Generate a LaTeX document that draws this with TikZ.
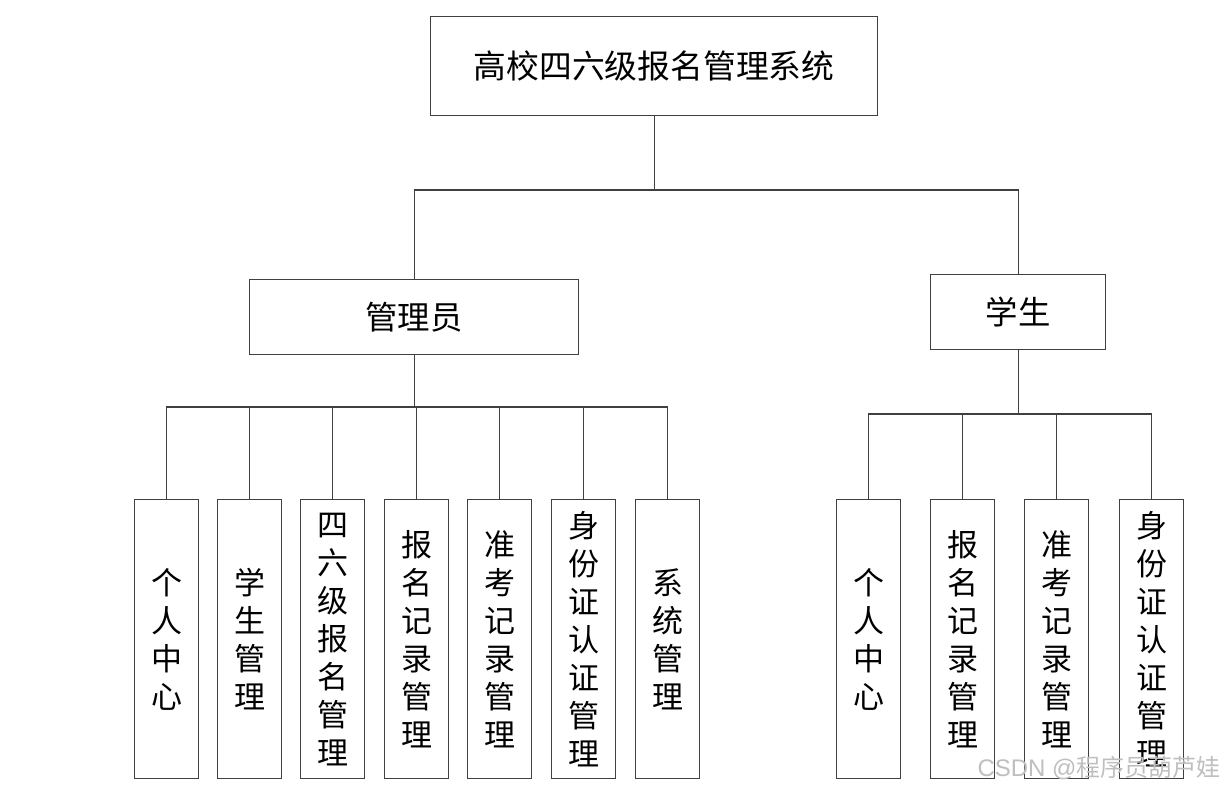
\documentclass[tikz,border=0pt]{standalone}
\usepackage{fontspec}
\newfontfamily\cjk{Noto Sans CJK SC}
\newfontfamily\wmsans{Liberation Sans}
\begin{document}
\begin{tikzpicture}[x=0.5pt,y=-0.5pt,
  box/.style={draw=black!75, line width=0.6pt, fill=white, inner sep=0pt, anchor=north west, align=center},
  leaf/.style={box, minimum width=32pt, minimum height=139.5pt, font=\cjk\fontsize{15.5}{19}\selectfont},
  conn/.style={draw=black!75, line width=0.6pt},
  wm/.style={text=black!25, font=\wmsans\fontsize{12}{14}\selectfont, anchor=east, inner sep=0pt}]
\fill[white] (0,0) rectangle (1224,788);
\useasboundingbox (0,0) rectangle (1224,788);
\coordinate (b1) at (0,190);
\coordinate (b2) at (0,407);
\coordinate (b3) at (0,414);
% boxes
\node[box, minimum width=223.5pt, minimum height=49.5pt, font=\cjk\fontsize{16.4}{20}\selectfont] (top) at (430,16) {高校四六级报名管理系统};
\node[box, minimum width=164.5pt, minimum height=37.5pt, font=\cjk\fontsize{16.2}{18}\selectfont] (admin) at (249,279) {管理员};
\node[box, minimum width=87.5pt, minimum height=37.5pt, font=\cjk\fontsize{16.2}{18}\selectfont] (stu) at (930,274) {学生};
% admin leaves
\node[leaf] (a1) at (134,499) {个\\人\\中\\心};
\node[leaf] (a2) at (217,499) {学\\生\\管\\理};
\node[leaf] (a3) at (300,499) {四\\六\\级\\报\\名\\管\\理};
\node[leaf] (a4) at (384,499) {报\\名\\记\\录\\管\\理};
\node[leaf] (a5) at (467,499) {准\\考\\记\\录\\管\\理};
\node[leaf] (a6) at (551,499) {身\\份\\证\\认\\证\\管\\理};
\node[leaf] (a7) at (635,499) {系\\统\\管\\理};
% student leaves
\node[leaf] (s1) at (836,499) {个\\人\\中\\心};
\node[leaf] (s2) at (930,499) {报\\名\\记\\录\\管\\理};
\node[leaf] (s3) at (1024,499) {准\\考\\记\\录\\管\\理};
\node[leaf] (s4) at (1119,499) {身\\份\\证\\认\\证\\管\\理};
% connectors
\foreach \c in {admin,stu}
  \draw[conn] (top.south) -- (top.south |- b1) -| (\c.north);
\foreach \c in {a1,a2,a3,a4,a5,a6,a7}
  \draw[conn] (admin.south) -- (admin.south |- b2) -| (\c.north);
\foreach \c in {s1,s2,s3,s4}
  \draw[conn] (stu.south) -- (stu.south |- b3) -| (\c.north);
% watermark
\node[wm] (wmk) at (1221,768) {CSDN @{\cjk 程序员葫芦娃}};
\end{tikzpicture}
\end{document}
